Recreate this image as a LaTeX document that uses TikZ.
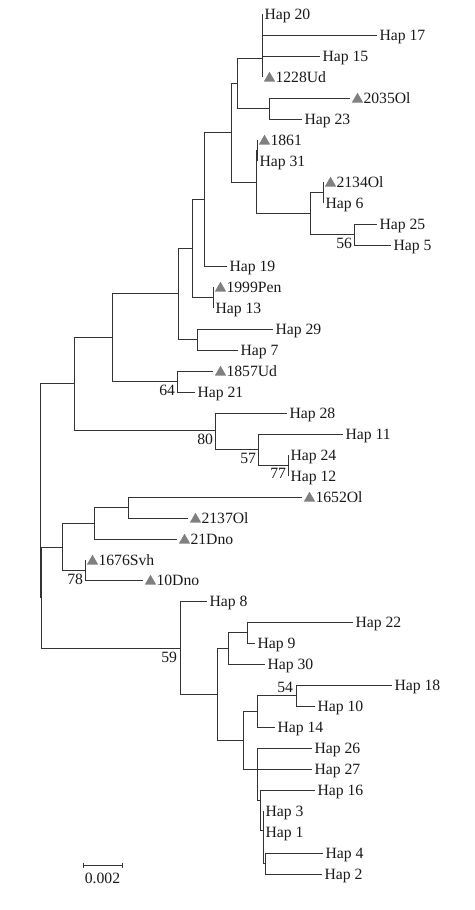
\documentclass[tikz,border=0pt]{standalone}
\usepackage{fontspec}
\setmainfont{Liberation Serif}
\usetikzlibrary{shapes.geometric}
\newcommand{\leafH}[4]{\coordinate (#1) at (#2,#3); \node[lab] (#1t) at ([xshift=2.5pt]#1) {#4};}
\newcommand{\leafT}[4]{\coordinate (#1) at (#2,#3); \node[tri] (#1m) at ([shift={(7.5,1.25)}]#1) {}; \node[lab] (#1t) at ([xshift=13.5pt]#1) {#4};}
\begin{document}
\begin{tikzpicture}[x=1pt,y=-1pt,
  br/.style={draw=black!80, line width=0.8pt},
  lab/.style={anchor=west, inner sep=0pt, outer sep=0pt, text height=10.4pt, text depth=0pt, font=\fontsize{15.7}{18}\selectfont, text=black!90},
  bs/.style={lab, anchor=east},
  tri/.style={regular polygon, regular polygon sides=3, fill=black!50, draw=none, inner sep=0pt, outer sep=0pt, minimum size=13pt}]
\useasboundingbox (0,0) rectangle (474,910);
% leaves
\leafH{l20}{262}{14}{Hap 20}
\leafH{l17}{377}{35}{Hap 17}
\leafH{l15}{320}{56}{Hap 15}
\leafT{l1228}{262}{77}{1228Ud}
\leafT{l2035}{350}{98}{2035Ol}
\leafH{l23}{302}{119}{Hap 23}
\leafT{l1861}{257}{140}{1861}
\leafH{l31}{257}{161}{Hap 31}
\leafT{l2134}{323}{182}{2134Ol}
\leafH{l6}{323}{203}{Hap 6}
\leafH{l25}{377}{224}{Hap 25}
\leafH{l5}{391}{245}{Hap 5}
\leafH{l19}{227}{266}{Hap 19}
\leafT{l1999}{213}{287}{1999Pen}
\leafH{l13}{213}{308}{Hap 13}
\leafH{l29}{273}{329}{Hap 29}
\leafH{l7}{238}{350}{Hap 7}
\leafT{l1857}{213}{371}{1857Ud}
\leafH{l21}{195}{392}{Hap 21}
\leafH{l28}{287}{413}{Hap 28}
\leafH{l11}{343}{434}{Hap 11}
\leafH{l24}{288}{455}{Hap 24}
\leafH{l12}{288}{476}{Hap 12}
\leafT{l1652}{302}{497}{1652Ol}
\leafT{l2137}{188}{518}{2137Ol}
\leafT{l21D}{177}{539}{21Dno}
\leafT{l1676}{85}{560}{1676Svh}
\leafT{l10D}{143}{580}{10Dno}
\leafH{l8}{207}{601}{Hap 8}
\leafH{l22}{353}{622}{Hap 22}
\leafH{l9}{255}{643}{Hap 9}
\leafH{l30}{265}{664}{Hap 30}
\leafH{l18}{392}{685}{Hap 18}
\leafH{l10}{315}{706}{Hap 10}
\leafH{l14}{275}{727}{Hap 14}
\leafH{l26}{312}{748}{Hap 26}
\leafH{l27}{312}{769}{Hap 27}
\leafH{l16}{315}{790}{Hap 16}
\leafH{l3}{263}{811}{Hap 3}
\leafH{l1}{263}{832}{Hap 1}
\leafH{l4}{323}{853}{Hap 4}
\leafH{l2}{322}{874}{Hap 2}
% internal nodes
\coordinate (nA) at (262,58);
\coordinate (nB) at (269,108.5);
\coordinate (nC) at (237,83);
\coordinate (n1861) at (257,150.5);
\coordinate (n2134) at (323,192.5);
\coordinate (n56) at (354,234.5);
\coordinate (nD) at (310,213);
\coordinate (nE) at (256,182);
\coordinate (nF) at (231,132.5);
\coordinate (nG) at (204,199);
\coordinate (nH) at (213,297.5);
\coordinate (nI) at (192,248);
\coordinate (nJ) at (197,339.5);
\coordinate (nK) at (178,293);
\coordinate (n64) at (177,381.5);
\coordinate (nL) at (112,337);
\coordinate (n77) at (288,465.5);
\coordinate (n57) at (258,449);
\coordinate (n80) at (215,430);
\coordinate (nM) at (74,383);
\coordinate (n128) at (128,507);
\coordinate (n94) at (94,523);
\coordinate (n78) at (85,570);
\coordinate (n62) at (62,547);
\coordinate (n247) at (247,632.5);
\coordinate (n228) at (228,648);
\coordinate (n54) at (296,695.5);
\coordinate (n257) at (257,711);
\coordinate (N4) at (265,863.5);
\coordinate (N3) at (263,830);
\coordinate (N2) at (260,800);
\coordinate (N1) at (257,769);
\coordinate (n243) at (243,740);
\coordinate (n217) at (217,694);
\coordinate (n59) at (180,648);
\coordinate (nR2) at (41,597);
\coordinate (root) at (40,490);
% branches
\draw[br] (nA) |- (l20) (nA) |- (l17) (nA) |- (l15) (nA) |- (l1228);
\draw[br] (nB) |- (l2035) (nB) |- (l23);
\draw[br] (nC) |- (nA) (nC) |- (nB);
\draw[br] (n1861) |- (l1861) (n1861) |- (l31);
\draw[br] (n2134) |- (l2134) (n2134) |- (l6);
\draw[br] (n56) |- (l25) (n56) |- (l5);
\draw[br] (nD) |- (n2134) (nD) |- (n56);
\draw[br] (nE) |- (n1861) (nE) |- (nD);
\draw[br] (nF) |- (nC) (nF) |- (nE);
\draw[br] (nG) |- (nF) (nG) |- (l19);
\draw[br] (nH) |- (l1999) (nH) |- (l13);
\draw[br] (nI) |- (nG) (nI) |- (nH);
\draw[br] (nJ) |- (l29) (nJ) |- (l7);
\draw[br] (nK) |- (nI) (nK) |- (nJ);
\draw[br] (n64) |- (l1857) (n64) |- (l21);
\draw[br] (nL) |- (nK) (nL) |- (n64);
\draw[br] (n77) |- (l24) (n77) |- (l12);
\draw[br] (n57) |- (l11) (n57) |- (n77);
\draw[br] (n80) |- (l28) (n80) |- (n57);
\draw[br] (nM) |- (nL) (nM) |- (n80);
\draw[br] (n128) |- (l1652) (n128) |- (l2137);
\draw[br] (n94) |- (n128) (n94) |- (l21D);
\draw[br] (n78) |- (l1676) (n78) |- (l10D);
\draw[br] (n62) |- (n94) (n62) |- (n78);
\draw[br] (n247) |- (l22) (n247) |- (l9);
\draw[br] (n228) |- (n247) (n228) |- (l30);
\draw[br] (n54) |- (l18) (n54) |- (l10);
\draw[br] (n257) |- (n54) (n257) |- (l14);
\draw[br] (N4) |- (l4) (N4) |- (l2);
\draw[br] (N3) |- (l3) (N3) |- (l1) (N3) |- (N4);
\draw[br] (N2) |- (l16) (N2) |- (N3);
\draw[br] (N1) |- (l26) (N1) |- (l27) (N1) |- (N2);
\draw[br] (n243) |- (n257) (n243) |- (N1);
\draw[br] (n217) |- (n228) (n217) |- (n243);
\draw[br] (n59) |- (l8) (n59) |- (n217);
\draw[br] (nR2) |- (n62) (nR2) |- (n59);
\draw[br] (root) |- (nM) (root) |- (nR2);
% bootstrap values
\node[bs] (b56) at (352,243) {56};
\node[bs] (b64) at (175,390) {64};
\node[bs] (b80) at (213,439) {80};
\node[bs] (b57) at (256,458) {57};
\node[bs] (b77) at (286,473) {77};
\node[bs] (b78) at (83,579) {78};
\node[bs] (b59) at (177,657) {59};
\node[bs] (b54) at (293,687) {54};
% scale bar
\coordinate (sL) at (83,865);
\coordinate (sR) at (122,865);
\draw[br] (sL) -- (sR);
\draw[br] ([yshift=2.5pt]sL) -- ([yshift=-2.5pt]sL);
\draw[br] ([yshift=2.5pt]sR) -- ([yshift=-2.5pt]sR);
\node[lab, anchor=center] (sbt) at (102.5,878) {0.002};
\end{tikzpicture}
\end{document}
